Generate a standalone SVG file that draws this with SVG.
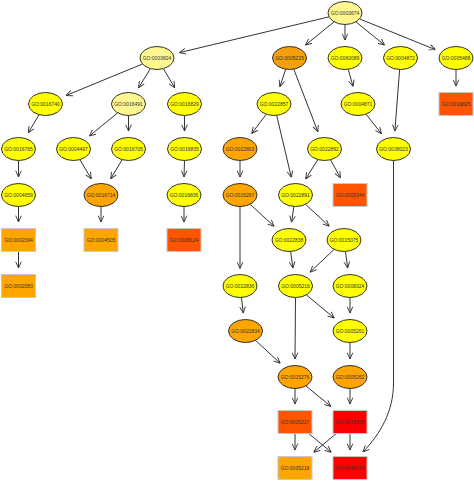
<svg xmlns="http://www.w3.org/2000/svg" width="474" height="481" viewBox="0 0 474 481">
<defs>
<marker id="ah" viewBox="0 0 10 10" refX="10" refY="5" markerWidth="7" markerHeight="7" markerUnits="userSpaceOnUse" orient="auto">
<path d="M1,1 L10,5 L1,9" fill="none" stroke="#333" stroke-width="1.3"/>
</marker>
<style>
.e{stroke:#333;stroke-width:1}
.r{stroke:#c8c8c8;stroke-width:1}
.pale{fill:#FFF68F}
.yel{fill:#FFFF00}
.org{fill:#FFA500}
.dorg{fill:#F5A00A}
.ro{fill:#FF5500}
.red{fill:#FF0000}
text{font-family:"Liberation Sans",Arial,sans-serif;font-size:5px;fill:#333;text-anchor:middle}
#edges line,#edges path{stroke:#333;stroke-width:1;fill:none;marker-end:url(#ah)}
</style>
</defs>
<rect width="474" height="481" fill="#fff"/>
<g id="edges">
<line x1="328.97" y1="16.84" x2="179.35" y2="52.65"/>
<line x1="334.11" y1="21.83" x2="305.44" y2="45.08"/>
<line x1="345" y1="24.5" x2="345" y2="40"/>
<line x1="355.89" y1="21.83" x2="384.56" y2="45.08"/>
<line x1="359.58" y1="18.91" x2="435.4" y2="49.65"/>
<line x1="142.49" y1="63.99" x2="66.02" y2="95.53"/>
<line x1="150.43" y1="68.61" x2="138.5" y2="87.87"/>
<line x1="163.37" y1="68.66" x2="174.79" y2="87.76"/>
<line x1="285.72" y1="69.21" x2="279.85" y2="86.63"/>
<line x1="293.78" y1="69.13" x2="317.89" y2="131.81"/>
<line x1="348.19" y1="69.3" x2="353.04" y2="86.45"/>
<line x1="399.62" y1="69.49" x2="394.88" y2="131.03"/>
<line x1="456" y1="69.5" x2="456" y2="86"/>
<line x1="39.11" y1="114.66" x2="28.24" y2="132.77"/>
<line x1="117.67" y1="112.86" x2="89.36" y2="136.02"/>
<line x1="128.5" y1="115.5" x2="128.5" y2="131"/>
<line x1="184.5" y1="115.5" x2="184.5" y2="131"/>
<line x1="266.27" y1="114.24" x2="251.65" y2="133.58"/>
<line x1="276.68" y1="115.36" x2="291.32" y2="177.32"/>
<line x1="366" y1="114.14" x2="381.47" y2="133.75"/>
<line x1="18.5" y1="160.5" x2="18.5" y2="177"/>
<line x1="79.87" y1="159.66" x2="91.29" y2="178.76"/>
<line x1="122.13" y1="159.66" x2="110.71" y2="178.76"/>
<line x1="184.5" y1="160.5" x2="184" y2="177"/>
<line x1="240" y1="160.5" x2="240" y2="177"/>
<line x1="317.83" y1="159.57" x2="305.63" y2="178.93"/>
<line x1="330.47" y1="159.77" x2="340.47" y2="177.82"/>
<path d="M393.5,160.5 L393.5,383 C393.5,412 380,434 363,452"/>
<line x1="18.5" y1="206.5" x2="18.5" y2="222"/>
<line x1="101" y1="206.5" x2="101" y2="222"/>
<line x1="184" y1="206.5" x2="184" y2="222"/>
<line x1="250.08" y1="204.26" x2="274.13" y2="226.34"/>
<line x1="240" y1="206.5" x2="240" y2="268.5"/>
<line x1="293.85" y1="206.44" x2="291.58" y2="222.13"/>
<line x1="305.51" y1="204.29" x2="329.22" y2="226.29"/>
<line x1="18.5" y1="251.5" x2="18.5" y2="268"/>
<line x1="290.62" y1="251.45" x2="292.97" y2="268.12"/>
<line x1="334.13" y1="249.36" x2="310.09" y2="272.16"/>
<line x1="345.49" y1="251.45" x2="347.66" y2="268.1"/>
<line x1="241.4" y1="297.45" x2="243.31" y2="313.09"/>
<line x1="295.5" y1="297.5" x2="295" y2="359"/>
<line x1="306.27" y1="294.89" x2="334.22" y2="317.97"/>
<line x1="350" y1="297.5" x2="350" y2="313"/>
<line x1="255.51" y1="340.3" x2="280.23" y2="363.28"/>
<line x1="350" y1="342.5" x2="350" y2="359"/>
<line x1="295" y1="388.5" x2="295" y2="404"/>
<line x1="305.83" y1="385.86" x2="330.91" y2="406.38"/>
<line x1="350" y1="388.5" x2="350" y2="404"/>
<line x1="295" y1="433.5" x2="295" y2="450"/>
<line x1="308.75" y1="433.5" x2="331.27" y2="452.33"/>
<line x1="336.25" y1="433.5" x2="313.73" y2="452.33"/>
<line x1="350" y1="433.5" x2="350" y2="450"/>
</g>
<g id="n0003674"><ellipse class="e pale" cx="345" cy="13" rx="17" ry="11.5"/><text x="345" y="14.8">GO:0003674</text></g>
<g id="n0003824"><ellipse class="e pale" cx="157" cy="58" rx="17" ry="11.5"/><text x="157" y="59.8">GO:0003824</text></g>
<g id="n0005215"><ellipse class="e dorg" cx="289.5" cy="58" rx="17" ry="11.5"/><text x="289.5" y="59.8">GO:0005215</text></g>
<g id="n0060089"><ellipse class="e yel" cx="345" cy="58" rx="17" ry="11.5"/><text x="345" y="59.8">GO:0060089</text></g>
<g id="n0004872"><ellipse class="e yel" cx="400.5" cy="58" rx="17" ry="11.5"/><text x="400.5" y="59.8">GO:0004872</text></g>
<g id="n0005488"><ellipse class="e yel" cx="456" cy="58" rx="17" ry="11.5"/><text x="456" y="59.8">GO:0005488</text></g>
<g id="n0016740"><ellipse class="e yel" cx="45.5" cy="104" rx="17" ry="11.5"/><text x="45.5" y="105.8">GO:0016740</text></g>
<g id="n0016491"><ellipse class="e pale" cx="128.5" cy="104" rx="17" ry="11.5"/><text x="128.5" y="105.8">GO:0016491</text></g>
<g id="n0016829"><ellipse class="e yel" cx="184.5" cy="104" rx="17" ry="11.5"/><text x="184.5" y="105.8">GO:0016829</text></g>
<g id="n0022857"><ellipse class="e yel" cx="274" cy="104" rx="17" ry="11.5"/><text x="274" y="105.8">GO:0022857</text></g>
<g id="n0004871"><ellipse class="e yel" cx="358" cy="104" rx="17" ry="11.5"/><text x="358" y="105.8">GO:0004871</text></g>
<g id="n0019825"><rect class="r ro" x="439" y="92.5" width="34" height="23"/><text x="456" y="105.8">GO:0019825</text></g>
<g id="n0016765"><ellipse class="e yel" cx="18.5" cy="149" rx="17" ry="11.5"/><text x="18.5" y="150.8">GO:0016765</text></g>
<g id="n0004497"><ellipse class="e yel" cx="73.5" cy="149" rx="17" ry="11.5"/><text x="73.5" y="150.8">GO:0004497</text></g>
<g id="n0016705"><ellipse class="e yel" cx="128.5" cy="149" rx="17" ry="11.5"/><text x="128.5" y="150.8">GO:0016705</text></g>
<g id="n0016835"><ellipse class="e yel" cx="184.5" cy="149" rx="17" ry="11.5"/><text x="184.5" y="150.8">GO:0016835</text></g>
<g id="n0022803"><ellipse class="e org" cx="240" cy="149" rx="17" ry="11.5"/><text x="240" y="150.8">GO:0022803</text></g>
<g id="n0022892"><ellipse class="e yel" cx="324.5" cy="149" rx="17" ry="11.5"/><text x="324.5" y="150.8">GO:0022892</text></g>
<g id="n0038023"><ellipse class="e yel" cx="393.5" cy="149" rx="17" ry="11.5"/><text x="393.5" y="150.8">GO:0038023</text></g>
<g id="n0004659"><ellipse class="e yel" cx="18.5" cy="195" rx="17" ry="11.5"/><text x="18.5" y="196.8">GO:0004659</text></g>
<g id="n0016714"><ellipse class="e org" cx="101" cy="195" rx="17" ry="11.5"/><text x="101" y="196.8">GO:0016714</text></g>
<g id="n0016836"><ellipse class="e yel" cx="184" cy="195" rx="17" ry="11.5"/><text x="184" y="196.8">GO:0016836</text></g>
<g id="n0015267"><ellipse class="e org" cx="240" cy="195" rx="17" ry="11.5"/><text x="240" y="196.8">GO:0015267</text></g>
<g id="n0022891"><ellipse class="e yel" cx="295.5" cy="195" rx="17" ry="11.5"/><text x="295.5" y="196.8">GO:0022891</text></g>
<g id="n0005344"><rect class="r ro" x="333" y="183.5" width="34" height="23"/><text x="350" y="196.8">GO:0005344</text></g>
<g id="n0002094"><rect class="r org" x="1.5" y="228.5" width="34" height="23"/><text x="18.5" y="241.8">GO:0002094</text></g>
<g id="n0004505"><rect class="r org" x="84" y="228.5" width="34" height="23"/><text x="101" y="241.8">GO:0004505</text></g>
<g id="n0008124"><rect class="r ro" x="167" y="228.5" width="34" height="23"/><text x="184" y="241.8">GO:0008124</text></g>
<g id="n0022838"><ellipse class="e yel" cx="289" cy="240" rx="17" ry="11.5"/><text x="289" y="241.8">GO:0022838</text></g>
<g id="n0015075"><ellipse class="e yel" cx="344" cy="240" rx="17" ry="11.5"/><text x="344" y="241.8">GO:0015075</text></g>
<g id="n0002083"><rect class="r org" x="1.5" y="274.5" width="34" height="23"/><text x="18.5" y="287.8">GO:0002083</text></g>
<g id="n0022836"><ellipse class="e yel" cx="240" cy="286" rx="17" ry="11.5"/><text x="240" y="287.8">GO:0022836</text></g>
<g id="n0005216"><ellipse class="e yel" cx="295.5" cy="286" rx="17" ry="11.5"/><text x="295.5" y="287.8">GO:0005216</text></g>
<g id="n0008324"><ellipse class="e yel" cx="350" cy="286" rx="17" ry="11.5"/><text x="350" y="287.8">GO:0008324</text></g>
<g id="n0022834"><ellipse class="e org" cx="245.5" cy="331" rx="17" ry="11.5"/><text x="245.5" y="332.8">GO:0022834</text></g>
<g id="n0005261"><ellipse class="e yel" cx="350" cy="331" rx="17" ry="11.5"/><text x="350" y="332.8">GO:0005261</text></g>
<g id="n0015276"><ellipse class="e org" cx="295" cy="377" rx="17" ry="11.5"/><text x="295" y="378.8">GO:0015276</text></g>
<g id="n0005262"><ellipse class="e org" cx="350" cy="377" rx="17" ry="11.5"/><text x="350" y="378.8">GO:0005262</text></g>
<g id="n0005217"><rect class="r ro" x="278" y="410.5" width="34" height="23"/><text x="295" y="423.8">GO:0005217</text></g>
<g id="n0015085"><rect class="r red" x="333" y="410.5" width="34" height="23"/><text x="350" y="423.8">GO:0015085</text></g>
<g id="n0005218"><rect class="r org" x="278" y="456.5" width="34" height="23"/><text x="295" y="469.8">GO:0005218</text></g>
<g id="n0048763"><rect class="r red" x="333" y="456.5" width="34" height="23"/><text x="350" y="469.8">GO:0048763</text></g>
</svg>
